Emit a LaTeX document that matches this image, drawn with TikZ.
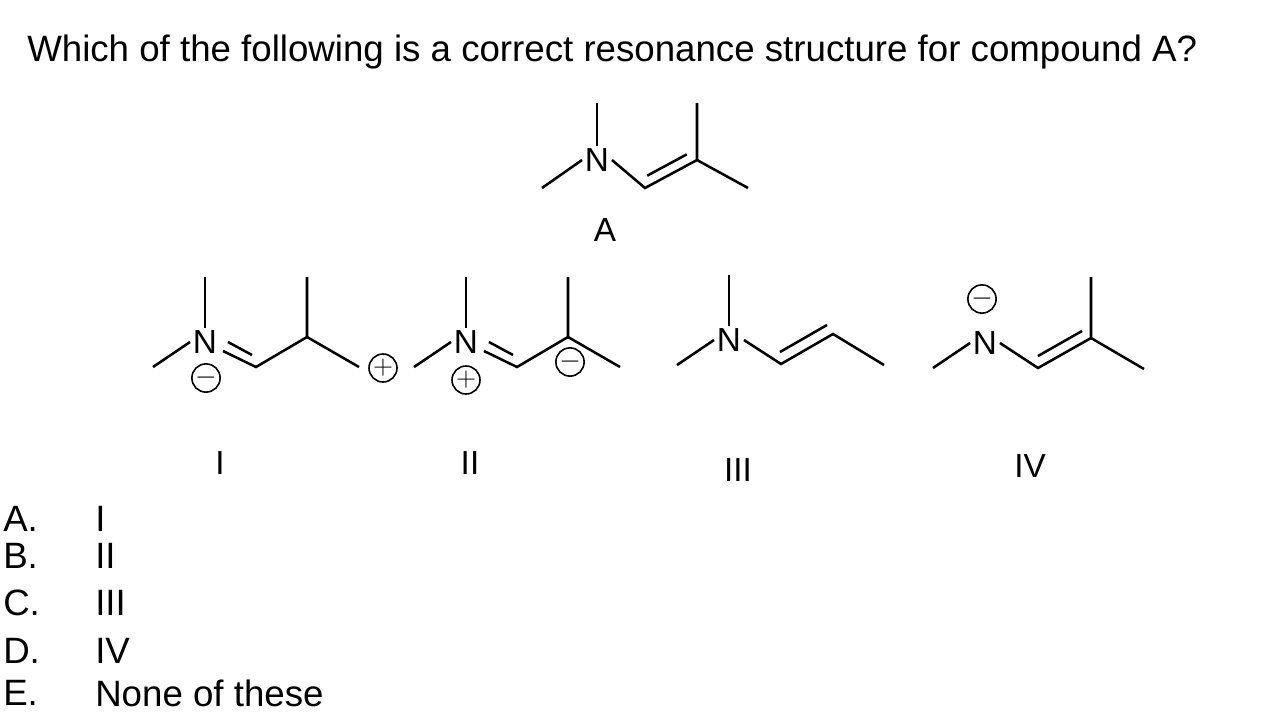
\documentclass[tikz,border=0pt]{standalone}
\usepackage{fontspec}
\setmainfont{Liberation Sans}
\usetikzlibrary{calc}
\begin{document}
\begin{tikzpicture}[x=0.75pt,y=-0.75pt,
 bond/.style={line width=1.9pt},
 atom/.style={inner sep=2pt,font=\fontsize{25}{26}\selectfont},
 chg/.style={circle,draw,line width=1.2pt,minimum size=21pt,inner sep=0pt,font=\fontsize{21}{21}\selectfont},
 lbl/.style={font=\fontsize{25}{26}\selectfont},
 txt/.style={anchor=west,font=\fontsize{27.5}{29}\selectfont,inner sep=0pt}]
\useasboundingbox (0,0) rectangle (1282,726);
\node[txt] (title) at (27,52) {Which of the following is a correct resonance structure for compound A?};
% Compound A
\node[atom] (NA) at (597,160) {N};
\coordinate (a1) at (597,103); \coordinate (a2) at (542,188);
\coordinate (aC1) at (645,188); \coordinate (aC2) at (697,160);
\coordinate (a3) at (697,103); \coordinate (a4) at (748,188);
\draw[bond] (a1) -- (NA.north); \draw[bond] (a2) -- (NA.west);
\draw[bond] (NA.east) -- (aC1) -- (aC2) -- (a3); \draw[bond] (aC2) -- (a4);
\draw[bond] ($(aC1)!0.12!(aC2)+(-4,-9)$) -- ($(aC1)!0.88!(aC2)+(-4,-9)$);
\node[lbl] (lA) at (605,230) {A};
% I
\node[atom] (N1) at (205,342) {N};
\coordinate (b1) at (205,277); \coordinate (b2) at (153,367);
\coordinate (bC1) at (256,367); \coordinate (bC2) at (307,337);
\coordinate (b3) at (307,277); \coordinate (b4) at (359,367);
\draw[bond] (b1) -- (N1.north); \draw[bond] (b2) -- (N1.west);
\draw[bond] (223,351) -- (bC1) -- (bC2) -- (b3); \draw[bond] (bC2) -- (b4);
\draw[bond] (228,342) -- (252,355);
\node[chg] (m1) at (206,378) {$-$};
\node[chg] (p1) at (383,368) {$+$};
\node[lbl] (l1) at (220,463) {I};
% II
\node[atom] (N2) at (466,342) {N};
\coordinate (c1) at (466,277); \coordinate (c2) at (414,367);
\coordinate (cC1) at (517,367); \coordinate (cC2) at (568,337);
\coordinate (c3) at (568,277); \coordinate (c4) at (620,367);
\draw[bond] (c1) -- (N2.north); \draw[bond] (c2) -- (N2.west);
\draw[bond] (484,351) -- (cC1) -- (cC2) -- (c3); \draw[bond] (cC2) -- (c4);
\draw[bond] (489,342) -- (513,355);
\node[chg] (p2) at (466,380) {$+$};
\node[chg] (m2) at (570,362) {$-$};
\node[lbl] (l2) at (470,463) {II};
% III
\node[atom] (N3) at (729,340) {N};
\coordinate (d1) at (729,275); \coordinate (d2) at (677,365);
\coordinate (dC1) at (781,364); \coordinate (dC2) at (833,334);
\coordinate (d4) at (884,365);
\draw[bond] (d1) -- (N3.north); \draw[bond] (d2) -- (N3.west);
\draw[bond] (N3.east) -- (dC1) -- (dC2) -- (d4);
\draw[bond] (780,352) -- (827,325);
\node[lbl] (l3) at (738,470) {III};
% IV
\node[atom] (N4) at (985,343) {N};
\coordinate (e2) at (933,368);
\coordinate (eC1) at (1038,368); \coordinate (eC2) at (1091,338);
\coordinate (e3) at (1091,277); \coordinate (e4) at (1144,369);
\draw[bond] (e2) -- (N4.west);
\draw[bond] (N4.east) -- (eC1) -- (eC2) -- (e3); \draw[bond] (eC2) -- (e4);
\draw[bond] (1038,356) -- (1082,331);
\node[chg] (m4) at (982,299) {$-$};
\node[lbl] (l4) at (1030,466) {IV};
% answers
\foreach \y/\L/\R [count=\i] in {519/A./I,556/B./II,603/C./III,651/D./IV,693/E./None of these}{
  \node[txt] (L\i) at (3,\y) {\L};
  \node[txt] (R\i) at (95,\y) {\R};
}
\end{tikzpicture}
\end{document}
